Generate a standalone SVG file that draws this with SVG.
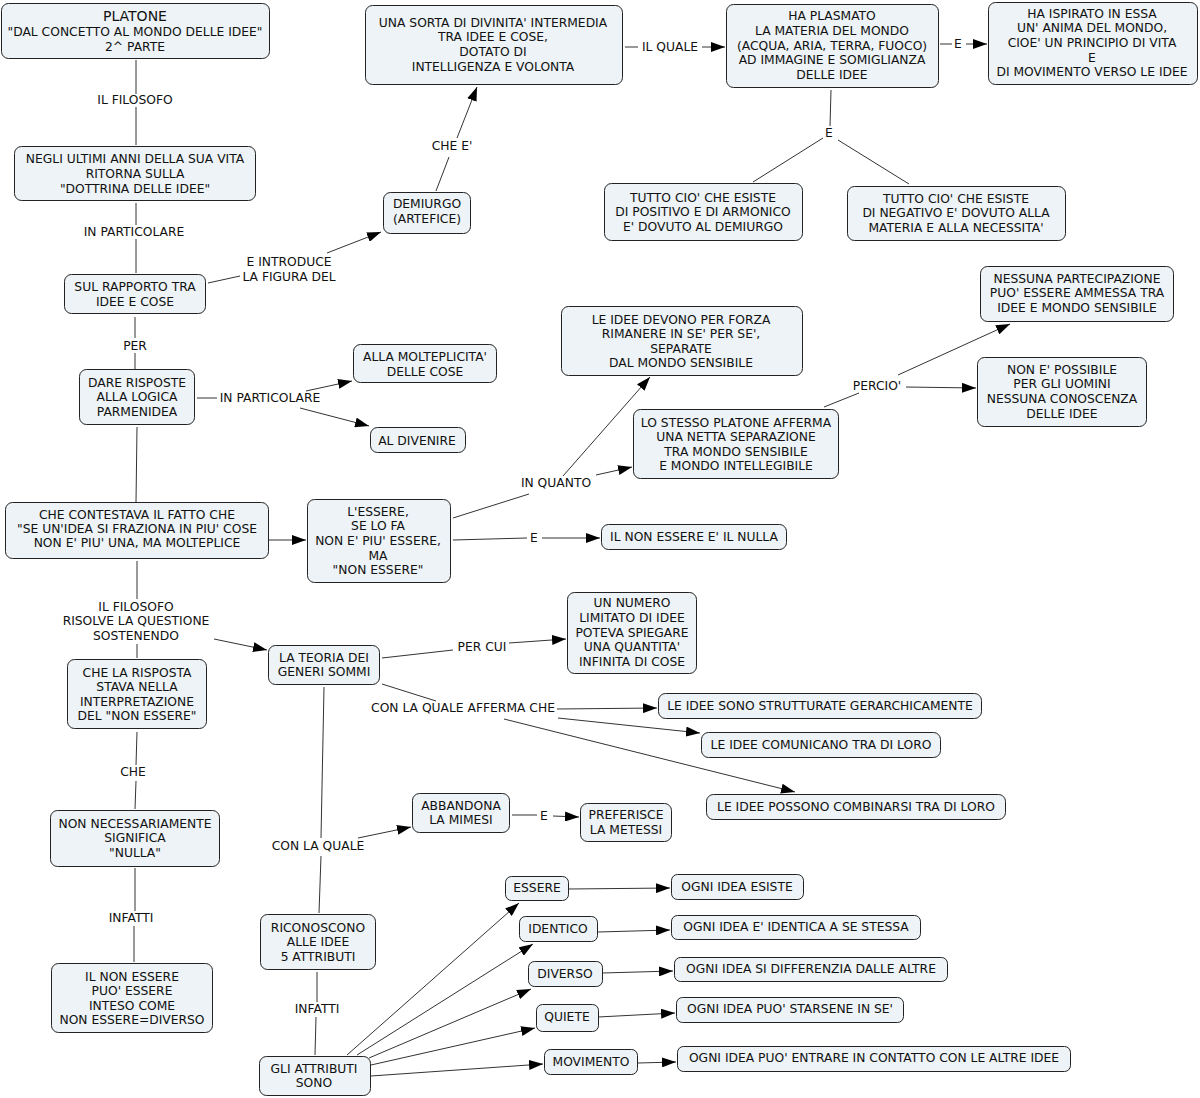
<svg xmlns="http://www.w3.org/2000/svg" width="1200" height="1098" viewBox="0 0 1200 1098">
<defs>
<marker id="ah" viewBox="0 0 14 10" refX="14" refY="5" markerWidth="14" markerHeight="10" markerUnits="userSpaceOnUse" orient="auto"><path d="M0,0 L14,5 L0,10 z" fill="#000"/></marker>
<style>
.n rect{fill:#edf3f6;stroke:#222;stroke-width:1}
text{font-family:"DejaVu Sans",Verdana,sans-serif;font-size:12.3px;fill:#111;text-anchor:middle;dominant-baseline:central}
.c line{stroke:#333;stroke-width:1;fill:none}
.c line.a{marker-end:url(#ah)}
</style>
</defs>
<rect width="1200" height="1098" fill="#fff"/>
<g class="c" id="connectors">
<line x1="136" y1="60" x2="136" y2="94"/><line x1="136" y1="107" x2="136" y2="145"/>
<line x1="136" y1="203" x2="136" y2="225"/><line x1="136" y1="239" x2="136" y2="273"/>
<line x1="135" y1="317" x2="135" y2="338"/><line x1="135" y1="353" x2="135" y2="369"/>
<line x1="208" y1="283" x2="240" y2="276"/><line class="a" x1="327" y1="253" x2="381" y2="232"/>
<line x1="436" y1="191" x2="449" y2="157"/><line class="a" x1="457" y1="138" x2="477" y2="87"/>
<line x1="625" y1="47" x2="638" y2="47"/><line class="a" x1="702" y1="47" x2="725" y2="47"/>
<line x1="940" y1="44" x2="952" y2="44"/><line class="a" x1="966" y1="44" x2="987" y2="44"/>
<line x1="831" y1="90" x2="830" y2="126"/><line x1="823" y1="138" x2="753" y2="182"/><line x1="838" y1="140" x2="909" y2="184"/>
<line x1="197" y1="398" x2="217" y2="398"/><line class="a" x1="306" y1="391" x2="352" y2="381"/><line class="a" x1="300" y1="408" x2="369" y2="426"/>
<line x1="137" y1="427" x2="136" y2="502"/>
<line class="a" x1="269" y1="540" x2="306" y2="540"/>
<line x1="453" y1="518" x2="529" y2="494"/><line class="a" x1="563" y1="476" x2="650" y2="377"/><line class="a" x1="596" y1="475" x2="632" y2="467"/>
<line x1="453" y1="540" x2="527" y2="538"/><line class="a" x1="542" y1="538" x2="600" y2="538"/>
<line x1="824" y1="407" x2="859" y2="393"/><line class="a" x1="898" y1="375" x2="1010" y2="324"/><line class="a" x1="906" y1="387" x2="976" y2="388"/>
<line x1="137" y1="561" x2="137" y2="599"/><line x1="137" y1="644" x2="137" y2="658"/><line class="a" x1="214" y1="639" x2="267" y2="650"/>
<line x1="137" y1="732" x2="136" y2="765"/><line x1="136" y1="781" x2="135" y2="809"/>
<line x1="135" y1="868" x2="135" y2="911"/><line x1="134" y1="926" x2="134" y2="962"/>
<line x1="382" y1="658" x2="453" y2="650"/><line class="a" x1="509" y1="643" x2="566" y2="639"/>
<line x1="382" y1="684" x2="436" y2="701"/><line class="a" x1="557" y1="709" x2="657" y2="708"/><line class="a" x1="558" y1="718" x2="700" y2="733"/><line class="a" x1="504" y1="719" x2="795" y2="792"/>
<line x1="324" y1="687" x2="321" y2="838"/><line x1="321" y1="856" x2="319" y2="913"/><line class="a" x1="358" y1="838" x2="411" y2="827"/>
<line x1="512" y1="815" x2="537" y2="815"/><line class="a" x1="553" y1="816" x2="579" y2="817"/>
<line x1="317" y1="972" x2="317" y2="1002"/><line x1="316" y1="1017" x2="315" y2="1055"/>
<line class="a" x1="347" y1="1055" x2="519" y2="903"/><line class="a" x1="357" y1="1055" x2="533" y2="944"/><line class="a" x1="369" y1="1058" x2="531" y2="989"/><line class="a" x1="371" y1="1065" x2="535" y2="1028"/><line class="a" x1="371" y1="1076" x2="543" y2="1064"/>
<line class="a" x1="569" y1="889" x2="670" y2="888"/><line class="a" x1="598" y1="932" x2="670" y2="930"/><line class="a" x1="602" y1="973" x2="673" y2="971"/><line class="a" x1="598" y1="1017" x2="675" y2="1013"/><line class="a" x1="638" y1="1063" x2="676" y2="1062"/>
</g>
<g id="labels">
<text x="135" y="100">IL FILOSOFO</text>
<text x="134" y="232">IN PARTICOLARE</text>
<text x="289" y="262">E INTRODUCE</text><text x="289" y="277">LA FIGURA DEL</text>
<text x="452" y="146">CHE E'</text>
<text x="670" y="47">IL QUALE</text>
<text x="958" y="44">E</text>
<text x="829" y="133">E</text>
<text x="135" y="346">PER</text>
<text x="270" y="398">IN PARTICOLARE</text>
<text x="556" y="483">IN QUANTO</text>
<text x="534" y="538">E</text>
<text x="877" y="386">PERCIO'</text>
<text x="136" y="607">IL FILOSOFO</text><text x="136" y="621">RISOLVE LA QUESTIONE</text><text x="136" y="636">SOSTENENDO</text>
<text x="133" y="772">CHE</text>
<text x="131" y="918">INFATTI</text>
<text x="482" y="647">PER CUI</text>
<text x="463" y="708">CON LA QUALE AFFERMA CHE</text>
<text x="318" y="846">CON LA QUALE</text>
<text x="544" y="816">E</text>
<text x="317" y="1009">INFATTI</text>
</g>
<g class="n" id="n1"><rect x="1.5" y="3.5" width="268" height="55" rx="7"/><text x="135" y="16" style="font-size:14px">PLATONE</text><text x="135" y="32">"DAL CONCETTO AL MONDO DELLE IDEE"</text><text x="135" y="47">2^ PARTE</text></g>
<g class="n" id="n2"><rect x="14.5" y="146.5" width="241" height="54" rx="7"/><text x="135" y="159">NEGLI ULTIMI ANNI DELLA SUA VITA</text><text x="135" y="174">RITORNA SULLA</text><text x="135" y="189">"DOTTRINA DELLE IDEE"</text></g>
<g class="n" id="n3"><rect x="64.5" y="274.5" width="141" height="39" rx="7"/><text x="135" y="287">SUL RAPPORTO TRA</text><text x="135" y="302">IDEE E COSE</text></g>
<g class="n" id="n4"><rect x="79.5" y="369.5" width="115" height="55" rx="7"/><text x="137" y="383">DARE RISPOSTE</text><text x="137" y="397">ALLA LOGICA</text><text x="137" y="412">PARMENIDEA</text></g>
<g class="n" id="n5"><rect x="5.5" y="502.5" width="263" height="56" rx="7"/><text x="137" y="515">CHE CONTESTAVA IL FATTO CHE</text><text x="137" y="529">"SE UN'IDEA SI FRAZIONA IN PIU' COSE</text><text x="137" y="543">NON E' PIU' UNA, MA MOLTEPLICE</text></g>
<g class="n" id="n6"><rect x="67.5" y="659.5" width="139" height="69" rx="7"/><text x="137" y="673">CHE LA RISPOSTA</text><text x="137" y="687">STAVA NELLA</text><text x="137" y="702">INTERPRETAZIONE</text><text x="137" y="716">DEL "NON ESSERE"</text></g>
<g class="n" id="n7"><rect x="50.5" y="810.5" width="169" height="56" rx="7"/><text x="135" y="824">NON NECESSARIAMENTE</text><text x="135" y="838">SIGNIFICA</text><text x="135" y="853">"NULLA"</text></g>
<g class="n" id="n8"><rect x="51.5" y="963.5" width="161" height="69" rx="7"/><text x="132" y="977">IL NON ESSERE</text><text x="132" y="991">PUO' ESSERE</text><text x="132" y="1006">INTESO COME</text><text x="132" y="1020">NON ESSERE=DIVERSO</text></g>
<g class="n" id="n9"><rect x="365.5" y="5.5" width="257" height="79" rx="7"/><text x="493" y="23">UNA SORTA DI DIVINITA' INTERMEDIA</text><text x="493" y="37">TRA IDEE E COSE,</text><text x="493" y="52">DOTATO DI</text><text x="493" y="67">INTELLIGENZA E VOLONTA</text></g>
<g class="n" id="n10"><rect x="383.5" y="192.5" width="87" height="41" rx="7"/><text x="427" y="204">DEMIURGO</text><text x="427" y="219">(ARTEFICE)</text></g>
<g class="n" id="n11"><rect x="726.5" y="4.5" width="212" height="83" rx="7"/><text x="832" y="16">HA PLASMATO</text><text x="832" y="31">LA MATERIA DEL MONDO</text><text x="832" y="46">(ACQUA, ARIA, TERRA, FUOCO)</text><text x="832" y="60">AD IMMAGINE E SOMIGLIANZA</text><text x="832" y="75">DELLE IDEE</text></g>
<g class="n" id="n12"><rect x="988.5" y="2.5" width="209" height="82" rx="7"/><text x="1092" y="14">HA ISPIRATO IN ESSA</text><text x="1092" y="28">UN' ANIMA DEL MONDO,</text><text x="1092" y="43">CIOE' UN PRINCIPIO DI VITA</text><text x="1092" y="58">E</text><text x="1092" y="72">DI MOVIMENTO VERSO LE IDEE</text></g>
<g class="n" id="n13"><rect x="604.5" y="183.5" width="198" height="57" rx="7"/><text x="703" y="198">TUTTO CIO' CHE ESISTE</text><text x="703" y="212">DI POSITIVO E DI ARMONICO</text><text x="703" y="227">E' DOVUTO AL DEMIURGO</text></g>
<g class="n" id="n14"><rect x="847.5" y="186.5" width="218" height="54" rx="7"/><text x="956" y="199">TUTTO CIO' CHE ESISTE</text><text x="956" y="213">DI NEGATIVO E' DOVUTO ALLA</text><text x="956" y="228">MATERIA E ALLA NECESSITA'</text></g>
<g class="n" id="n15"><rect x="353.5" y="344.5" width="143" height="38" rx="7"/><text x="425" y="357">ALLA MOLTEPLICITA'</text><text x="425" y="372">DELLE COSE</text></g>
<g class="n" id="n16"><rect x="370.5" y="427.5" width="95" height="25" rx="7"/><text x="417" y="441">AL DIVENIRE</text></g>
<g class="n" id="n17"><rect x="561.5" y="306.5" width="241" height="69" rx="7"/><text x="681" y="320">LE IDEE DEVONO PER FORZA</text><text x="681" y="334">RIMANERE IN SE' PER SE',</text><text x="681" y="349">SEPARATE</text><text x="681" y="363">DAL MONDO SENSIBILE</text></g>
<g class="n" id="n18"><rect x="633.5" y="409.5" width="205" height="69" rx="7"/><text x="736" y="423">LO STESSO PLATONE AFFERMA</text><text x="736" y="437">UNA NETTA SEPARAZIONE</text><text x="736" y="452">TRA MONDO SENSIBILE</text><text x="736" y="466">E MONDO INTELLEGIBILE</text></g>
<g class="n" id="n19"><rect x="980.5" y="266.5" width="193" height="55" rx="7"/><text x="1077" y="279">NESSUNA PARTECIPAZIONE</text><text x="1077" y="293">PUO' ESSERE AMMESSA TRA</text><text x="1077" y="308">IDEE E MONDO SENSIBILE</text></g>
<g class="n" id="n20"><rect x="977.5" y="357.5" width="169" height="69" rx="7"/><text x="1062" y="370">NON E' POSSIBILE</text><text x="1062" y="384">PER GLI UOMINI</text><text x="1062" y="399">NESSUNA CONOSCENZA</text><text x="1062" y="414">DELLE IDEE</text></g>
<g class="n" id="n21"><rect x="307.5" y="499.5" width="143" height="83" rx="7"/><text x="378" y="512">L'ESSERE,</text><text x="378" y="526">SE LO FA</text><text x="378" y="541">NON E' PIU' ESSERE,</text><text x="378" y="556">MA</text><text x="378" y="570">"NON ESSERE"</text></g>
<g class="n" id="n22"><rect x="601.5" y="524.5" width="185" height="25" rx="7"/><text x="694" y="537">IL NON ESSERE E' IL NULLA</text></g>
<g class="n" id="n23"><rect x="268.5" y="645.5" width="111" height="39" rx="7"/><text x="324" y="658">LA TEORIA DEI</text><text x="324" y="672">GENERI SOMMI</text></g>
<g class="n" id="n24"><rect x="567.5" y="592.5" width="129" height="81" rx="7"/><text x="632" y="603">UN NUMERO</text><text x="632" y="618">LIMITATO DI IDEE</text><text x="632" y="633">POTEVA SPIEGARE</text><text x="632" y="647">UNA QUANTITA'</text><text x="632" y="662">INFINITA DI COSE</text></g>
<g class="n" id="n25"><rect x="658.5" y="693.5" width="323" height="25" rx="7"/><text x="820" y="706">LE IDEE SONO STRUTTURATE GERARCHICAMENTE</text></g>
<g class="n" id="n26"><rect x="701.5" y="732.5" width="239" height="25" rx="7"/><text x="821" y="745">LE IDEE COMUNICANO TRA DI LORO</text></g>
<g class="n" id="n27"><rect x="706.5" y="794.5" width="299" height="25" rx="7"/><text x="856" y="807">LE IDEE POSSONO COMBINARSI TRA DI LORO</text></g>
<g class="n" id="n28"><rect x="412.5" y="793.5" width="97" height="39" rx="7"/><text x="461" y="806">ABBANDONA</text><text x="461" y="820">LA MIMESI</text></g>
<g class="n" id="n29"><rect x="580.5" y="803.5" width="91" height="38" rx="7"/><text x="626" y="815">PREFERISCE</text><text x="626" y="830">LA METESSI</text></g>
<g class="n" id="n30"><rect x="260.5" y="914.5" width="115" height="55" rx="7"/><text x="318" y="928">RICONOSCONO</text><text x="318" y="942">ALLE IDEE</text><text x="318" y="957">5 ATTRIBUTI</text></g>
<g class="n" id="n31"><rect x="259.5" y="1056.5" width="111" height="39" rx="7"/><text x="314" y="1069">GLI ATTRIBUTI</text><text x="314" y="1083">SONO</text></g>
<g class="n" id="n32"><rect x="505.5" y="876.5" width="63" height="24" rx="6"/><text x="537" y="888">ESSERE</text></g>
<g class="n" id="n33"><rect x="519.5" y="916.5" width="78" height="25" rx="6"/><text x="558" y="929">IDENTICO</text></g>
<g class="n" id="n34"><rect x="528.5" y="961.5" width="74" height="25" rx="6"/><text x="565" y="974">DIVERSO</text></g>
<g class="n" id="n35"><rect x="536.5" y="1004.5" width="62" height="27" rx="6"/><text x="567" y="1017">QUIETE</text></g>
<g class="n" id="n36"><rect x="544.5" y="1049.5" width="93" height="25" rx="6"/><text x="591" y="1062">MOVIMENTO</text></g>
<g class="n" id="n37"><rect x="671.5" y="874.5" width="132" height="25" rx="6"/><text x="737" y="887">OGNI IDEA ESISTE</text></g>
<g class="n" id="n38"><rect x="671.5" y="915.5" width="249" height="24" rx="6"/><text x="796" y="927">OGNI IDEA E' IDENTICA A SE STESSA</text></g>
<g class="n" id="n39"><rect x="674.5" y="957.5" width="273" height="24" rx="6"/><text x="811" y="969">OGNI IDEA SI DIFFERENZIA DALLE ALTRE</text></g>
<g class="n" id="n40"><rect x="676.5" y="997.5" width="227" height="25" rx="6"/><text x="790" y="1009">OGNI IDEA PUO' STARSENE IN SE'</text></g>
<g class="n" id="n41"><rect x="677.5" y="1046.5" width="393" height="25" rx="6"/><text x="874" y="1058">OGNI IDEA PUO' ENTRARE IN CONTATTO CON LE ALTRE IDEE</text></g>
</svg>
